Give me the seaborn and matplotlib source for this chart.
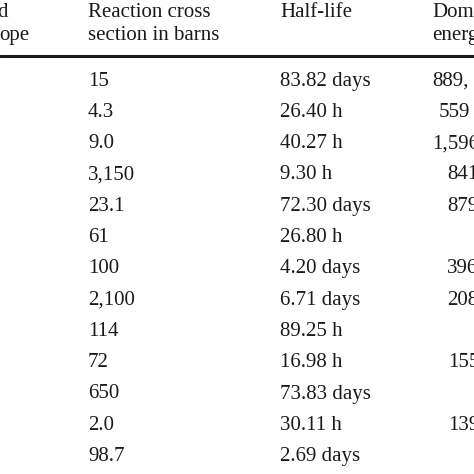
import matplotlib
matplotlib.use("Agg")
import matplotlib.pyplot as plt
import seaborn as sns

cross_sections = ["15", "4.3", "9.0", "3,150", "23.1", "61", "100", "2,100", "114", "72", "650", "2.0", "98.7"]
half_lives = ["83.82 days", "26.40 h", "40.27 h", "9.30 h", "72.30 days", "26.80 h", "4.20 days",
              "6.71 days", "89.25 h", "16.98 h", "73.83 days", "30.11 h", "2.69 days"]
energies = ["889,", "559", "1,596", "841", "879", "", "396", "208", "", "155", "", "139", ""]
energy_x = [432, 439, 432, 447, 447, 447, 447, 447, 447, 448, 448, 448, 448]

sns.set_theme(style="white")
plt.rcParams['font.family'] = ['Liberation Serif', 'DejaVu Serif']

fig = plt.figure(figsize=(4.74, 4.74), dpi=100)
ax = fig.add_axes([0, 0, 1, 1])
ax.set_xlim(0, 474)
ax.set_ylim(474, 0)
ax.axis("off")

fs = 15
col = "#1a1a1a"
def t(x, y, s):
    ax.text(x, y, s, fontsize=fs, color=col, va="center", ha="left", clip_on=True)

t(-3, 12, "d"); t(-1, 35, "ope")
t(88, 12, "Reaction cross"); t(88, 35, "section in barns")
t(280, 12, "Half-life")
t(432, 12, "Dom"); t(432, 35, "energ")
ax.plot([0, 474], [56, 56], color=col, lw=2.2, clip_on=True)

y0, dy = 81, 31.3
for i, (c, h, e) in enumerate(zip(cross_sections, half_lives, energies)):
    y = y0 + i * dy
    t(88, y, c)
    t(280, y, h)
    if e:
        t(energy_x[i], y, e)

fig.savefig("out.png", dpi=100)
